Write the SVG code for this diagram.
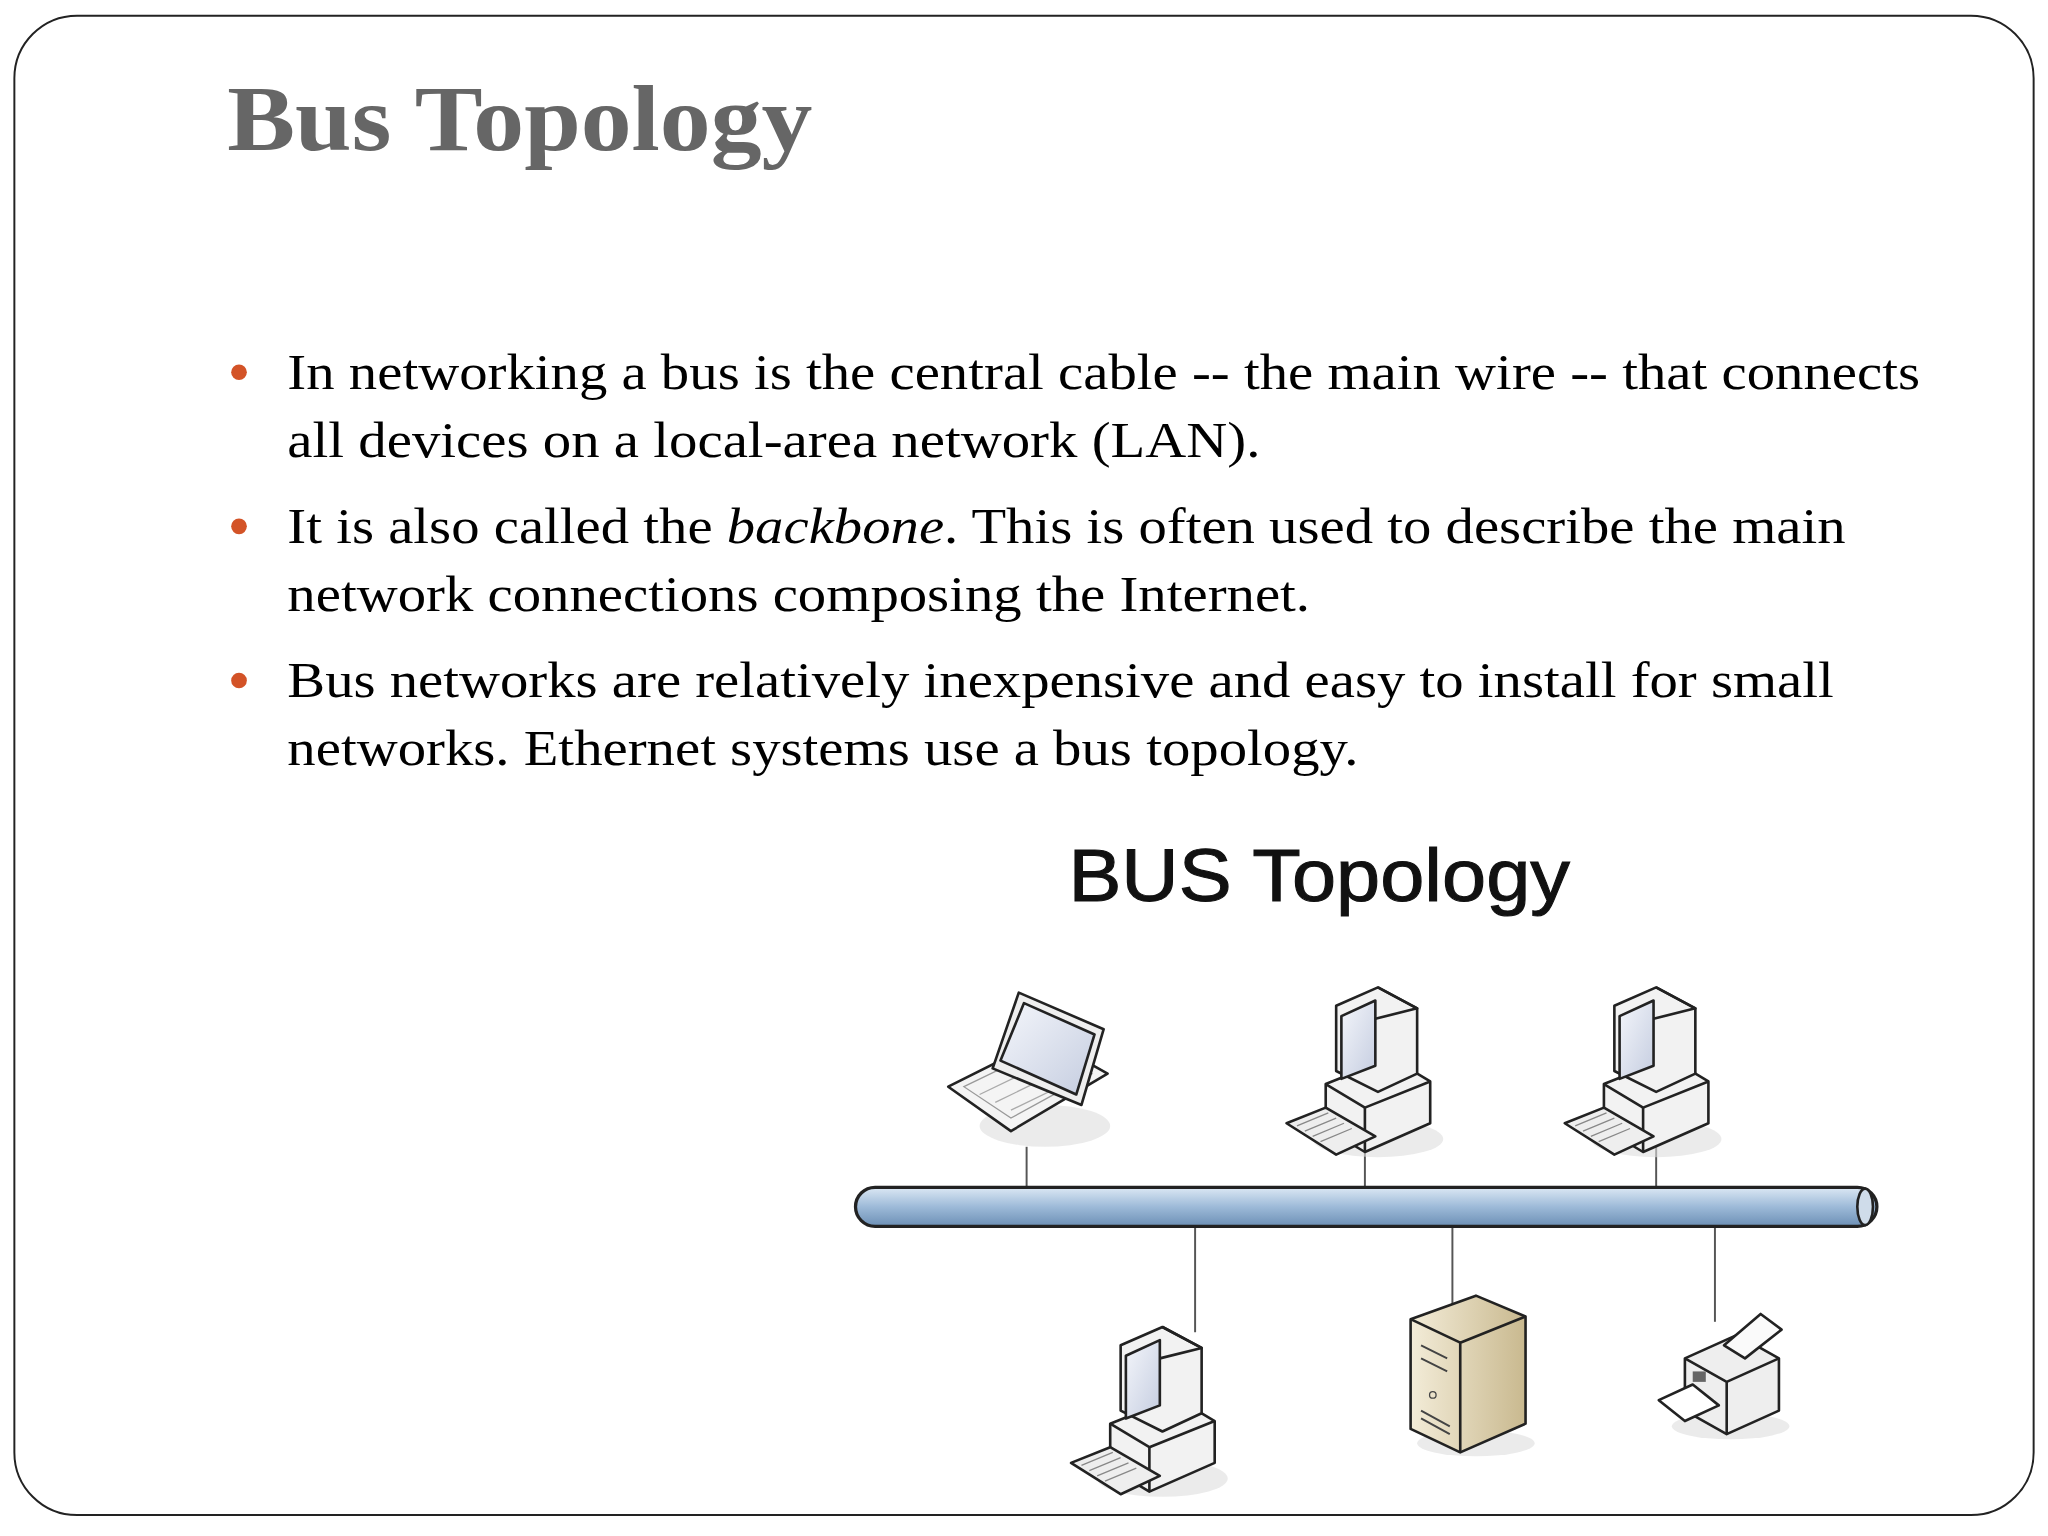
<svg xmlns="http://www.w3.org/2000/svg" width="2048" height="1536" viewBox="0 0 2048 1536">
<style>
.body{font-family:"Liberation Serif",serif;font-size:39px;fill:#000}
.dev{stroke:#222;stroke-width:2;stroke-linejoin:round}
.drop{stroke:#555;stroke-width:1.5}
</style>
<defs>
<linearGradient id="pipe" x1="0" y1="0" x2="0" y2="1"><stop offset="0" stop-color="#dce8f4"/><stop offset="0.5" stop-color="#9dbad8"/><stop offset="1" stop-color="#6c8fb5"/></linearGradient>
<linearGradient id="scr" x1="0" y1="0" x2="1" y2="1"><stop offset="0" stop-color="#f4f6fb"/><stop offset="1" stop-color="#c5cde0"/></linearGradient>
<linearGradient id="tan" x1="0" y1="0" x2="1" y2="0"><stop offset="0" stop-color="#f3ecd8"/><stop offset="1" stop-color="#c9b98f"/></linearGradient>
<g id="pc">
<ellipse cx="10" cy="72" rx="50" ry="14" fill="#ddd" opacity="0.6"/>
<path class="dev" d="M-30 30 L20 10 L50 28 L50 60 L0 82 L-30 64 Z" fill="#f2f2f2"/>
<path class="dev" d="M-30 30 L0 48 L50 28" fill="none"/>
<path class="dev" d="M0 48 L0 82" fill="none"/>
<path class="dev" d="M-22 -30 L10 -44 L40 -28 L40 22 L10 36 L-22 20 Z" fill="#f2f2f2"/>
<path class="dev" d="M-18 -22 L8 -34 L8 16 L-18 26 Z" fill="url(#scr)" stroke-width="1.5"/>
<path class="dev" d="M10 -44 L40 -28 L8 -20" fill="none" stroke-width="1"/>
<path class="dev" d="M-60 60 L-30 48 L8 70 L-22 84 Z" fill="#eee"/>
<path d="M-52 62 L-28 52 M-46 66 L-22 56 M-40 70 L-16 60 M-34 74 L-10 64" stroke="#888" stroke-width="1"/>
</g>
</defs>
<rect x="0" y="0" width="2048" height="1536" fill="#fff"/>
<g transform="scale(1.30612)">
<rect x="11" y="12" width="1546" height="1148" rx="48" fill="#fff" stroke="#222" stroke-width="1.5"/>
<g id="title"><text x="174" y="115" font-family="Liberation Serif,serif" font-weight="bold" font-size="72" fill="#666" textLength="448" lengthAdjust="spacingAndGlyphs">Bus Topology</text></g>
<g id="bullets">
<circle cx="183" cy="285" r="6" fill="#d35327"/>
<circle cx="183" cy="403" r="6" fill="#d35327"/>
<circle cx="183" cy="521" r="6" fill="#d35327"/>
<text class="body" x="220" y="298" textLength="1250" lengthAdjust="spacingAndGlyphs">In networking a bus is the central cable -- the main wire -- that connects</text>
<text class="body" x="220" y="350" textLength="745" lengthAdjust="spacingAndGlyphs">all devices on a local-area network (LAN).</text>
<text class="body" x="220" y="416" textLength="1193" lengthAdjust="spacingAndGlyphs">It is also called the <tspan font-style="italic">backbone</tspan>. This is often used to describe the main</text>
<text class="body" x="220" y="468" textLength="783" lengthAdjust="spacingAndGlyphs">network connections composing the Internet.</text>
<text class="body" x="220" y="534" textLength="1184" lengthAdjust="spacingAndGlyphs">Bus networks are relatively inexpensive and easy to install for small</text>
<text class="body" x="220" y="586" textLength="820" lengthAdjust="spacingAndGlyphs">networks. Ethernet systems use a bus topology.</text>
</g>
<g id="diagram-title"><text x="818" y="690" font-family="Liberation Sans,Arial,sans-serif" font-size="57" fill="#111" stroke="#111" stroke-width="0.8" textLength="384" lengthAdjust="spacingAndGlyphs">BUS Topology</text></g>
<g id="connectors">
<line class="drop" x1="786" y1="878" x2="786" y2="911"/>
<line class="drop" x1="1045" y1="880" x2="1045" y2="911"/>
<line class="drop" x1="1268" y1="870" x2="1268" y2="911"/>
<line class="drop" x1="915" y1="938" x2="915" y2="1020"/>
<line class="drop" x1="1112" y1="938" x2="1112" y2="1000"/>
<line class="drop" x1="1313" y1="938" x2="1313" y2="1012"/>
</g>
<g id="bus">
<rect x="655" y="909" width="782" height="30" rx="15" fill="url(#pipe)" stroke="#222" stroke-width="2.5"/>
<ellipse cx="1428" cy="924" rx="6" ry="14" fill="#cfdcea" stroke="#222" stroke-width="2"/>
</g>
<g id="laptop">
<ellipse cx="800" cy="862" rx="50" ry="16" fill="#ddd" opacity="0.6"/>
<path class="dev" d="M726 832 L800 795 L848 822 L774 866 Z" fill="#f4f4f4"/>
<path d="M738 832 L800 802 L836 822 L774 856 Z" fill="none" stroke="#999" stroke-width="1"/>
<path d="M750 838 L812 808 M762 844 L824 814 M774 850 L836 820" stroke="#aaa" stroke-width="1"/>
<path class="dev" d="M760 818 L780 760 L845 788 L828 846 Z" fill="#eee"/>
<path class="dev" d="M766 812 L784 768 L838 792 L824 838 Z" fill="url(#scr)" stroke-width="1.5"/>
</g>
<g id="pc1" transform="translate(1045,800)"><use href="#pc"/></g>
<g id="pc2" transform="translate(1258,800)"><use href="#pc"/></g>
<g id="pc3" transform="translate(880,1060)"><use href="#pc"/></g>
<g id="server">
<ellipse cx="1130" cy="1105" rx="45" ry="10" fill="#ddd" opacity="0.6"/>
<path class="dev" d="M1080 1010 L1130 992 L1168 1008 L1168 1090 L1118 1112 L1080 1094 Z" fill="url(#tan)"/>
<path class="dev" d="M1080 1010 L1118 1028 L1168 1008 M1118 1028 L1118 1112" fill="none"/>
<path d="M1088 1030 L1108 1040 M1088 1040 L1108 1050 M1088 1080 L1110 1092 M1088 1086 L1110 1098" stroke="#444" stroke-width="1.5"/>
<circle cx="1097" cy="1068" r="2.5" fill="none" stroke="#444"/>
</g>
<g id="printer">
<ellipse cx="1325" cy="1092" rx="45" ry="10" fill="#ddd" opacity="0.6"/>
<path class="dev" d="M1290 1040 L1330 1022 L1362 1040 L1362 1080 L1322 1098 L1290 1080 Z" fill="#eee"/>
<path class="dev" d="M1290 1040 L1322 1058 L1362 1040 M1322 1058 L1322 1098" fill="none"/>
<path class="dev" d="M1320 1030 L1348 1006 L1364 1018 L1336 1040 Z" fill="#fafafa"/>
<path class="dev" d="M1270 1072 L1296 1060 L1316 1076 L1290 1088 Z" fill="#fff"/>
<rect x="1296" y="1050" width="10" height="8" fill="#666"/>
</g>
</g>
</svg>
